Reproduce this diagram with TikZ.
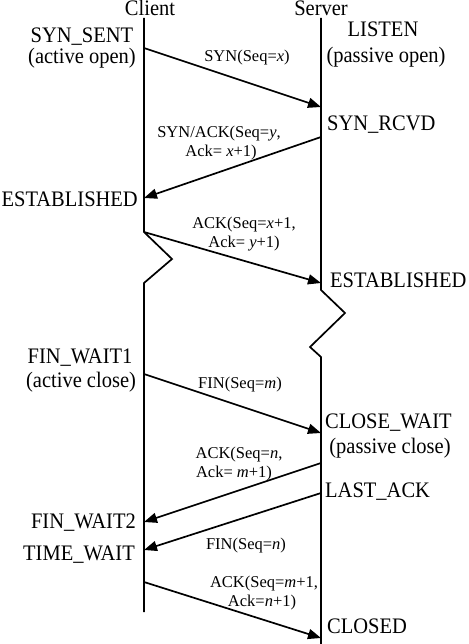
\documentclass[tikz,border=0pt]{standalone}
\usepackage{fontspec}
\setmainfont{Liberation Serif}
\usetikzlibrary{arrows.meta}
\newcommand{\tall}[1]{\scalebox{1}[1.08]{#1}}
\tikzset{
  big/.style={font=\rmfamily\fontsize{20.5}{24}\selectfont, inner sep=0pt},
  small/.style={font=\rmfamily\fontsize{16.5}{19}\selectfont, inner sep=0pt},
  life/.style={line width=1.7pt, line join=miter},
  msg/.style={line width=1.7pt, -{Triangle[length=13pt,width=10pt]}},
}
\begin{document}
\begin{tikzpicture}[x=1pt,y=-1pt]
\useasboundingbox (0,0) rectangle (468,644);
% client lifeline points
\coordinate (c0) at (144,18);
\coordinate (c1) at (144,48);
\coordinate (c2) at (144,198);
\coordinate (c3) at (144,232);
\coordinate (cz1) at (172,259);
\coordinate (cz2) at (144,283);
\coordinate (c4) at (144,374);
\coordinate (c5) at (144,522);
\coordinate (c6) at (144,550);
\coordinate (c7) at (144,582);
\coordinate (cend) at (144,612);
% server lifeline points
\coordinate (s0) at (321,18);
\coordinate (s1) at (321,107);
\coordinate (s2) at (321,137);
\coordinate (s3) at (321,283);
\coordinate (sz0) at (321,290);
\coordinate (sz1) at (345,313);
\coordinate (sz2) at (310,347);
\coordinate (sz3) at (321,357);
\coordinate (s4) at (321,433);
\coordinate (s5) at (321,463);
\coordinate (s6) at (321,493);
\coordinate (s7) at (321,638);
\coordinate (send) at (321,644);
% lifelines
\draw[life] (c0) -- (c3) -- (cz1) -- (cz2) -- (cend);
\draw[life] (s0) -- (sz0) -- (sz1) -- (sz2) -- (sz3) -- (send);
% messages
\draw[msg] (c1) -- (s1);
\draw[msg] (s2) -- (c2);
\draw[msg] (c3) -- (s3);
\draw[msg] (c4) -- (s4);
\draw[msg] (s5) -- (c5);
\draw[msg] (s6) -- (c6);
\draw[msg] (c7) -- (s7);
% headers
\node[big, anchor=base] (client) at (150,16) {\tall{Client}};
\node[big, anchor=base] (server) at (321,16) {\tall{Server}};
% client states
\node[big, anchor=base] (synsent) at (82,43) {\tall{SYN\_SENT}};
\node[big, anchor=base] (actopen) at (82,64) {\tall{(active open)}};
\node[big, anchor=base east] (estc) at (138,207) {\tall{ESTABLISHED}};
\node[big, anchor=base] (fw1) at (80,363) {\tall{FIN\_WAIT1}};
\node[big, anchor=base] (actclose) at (81,387) {\tall{(active close)}};
\node[big, anchor=base east] (fw2) at (136,528) {\tall{FIN\_WAIT2}};
\node[big, anchor=base east] (tw) at (135,560) {\tall{TIME\_WAIT}};
% server states
\node[big, anchor=base] (listen) at (383,37) {\tall{LISTEN}};
\node[big, anchor=base] (pasopen) at (386,63) {\tall{(passive open)}};
\node[big, anchor=base west] (synrcvd) at (327,131) {\tall{SYN\_RCVD}};
\node[big, anchor=base west] (ests) at (330,287) {\tall{ESTABLISHED}};
\node[big, anchor=base west] (closewait) at (325,428) {\tall{CLOSE\_WAIT}};
\node[big, anchor=base] (pasclose) at (390,453) {\tall{(passive close)}};
\node[big, anchor=base west] (lastack) at (325,497) {\tall{LAST\_ACK}};
\node[big, anchor=base west] (closed) at (327,633) {\tall{CLOSED}};
% message labels
\node[small, anchor=base] (m1) at (247,62) {SYN(Seq=\textit{x})};
\node[small, anchor=base] (m2a) at (219,138) {SYN/ACK(Seq=\textit{y},};
\node[small, anchor=base] (m2b) at (221,157) {Ack= \textit{x}+1)};
\node[small, anchor=base] (m3a) at (244,228) {ACK(Seq=\textit{x}+1,};
\node[small, anchor=base] (m3b) at (244,247) {Ack= \textit{y}+1)};
\node[small, anchor=base] (m4) at (240,388) {FIN(Seq=\textit{m})};
\node[small, anchor=base] (m5a) at (239,458) {ACK(Seq=\textit{n},};
\node[small, anchor=base] (m5b) at (234,477) {Ack= \textit{m}+1)};
\node[small, anchor=base] (m6) at (246,549) {FIN(Seq=\textit{n})};
\node[small, anchor=base] (m7a) at (264,587) {ACK(Seq=\textit{m}+1,};
\node[small, anchor=base] (m7b) at (262,606) {Ack=\textit{n}+1)};
\end{tikzpicture}
\end{document}
